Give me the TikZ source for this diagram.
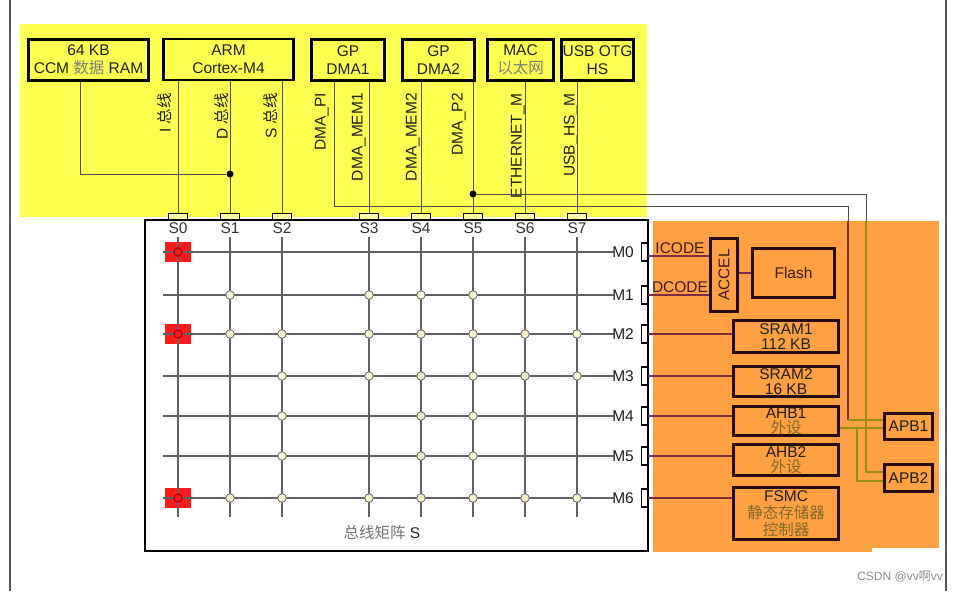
\documentclass[tikz,border=0pt]{standalone}
\usepackage{fontspec}
\setmainfont{Liberation Sans}
\newfontfamily\cjk{Noto Sans CJK SC}
\usetikzlibrary{calc}
\definecolor{yel}{RGB}{255,255,80}
\definecolor{org}{RGB}{255,161,64}
\definecolor{redc}{RGB}{255,25,25}
\definecolor{dotfill}{RGB}{250,246,210}
\definecolor{maroonc}{RGB}{125,45,65}
\definecolor{olivec}{RGB}{150,140,20}
\definecolor{cjkgray}{RGB}{125,125,125}
\definecolor{cjkolive}{RGB}{125,105,40}
\definecolor{codec}{RGB}{60,25,40}
\definecolor{slaveedge}{RGB}{35,10,20}
\begin{document}
\begin{tikzpicture}[x=1pt,y=-1pt,
  base/.style={font=\fontsize{15.5}{18}\selectfont, text=black!88},
  master/.style={base, draw=black, line width=2.6pt, fill=yel, align=center, inner sep=0pt, minimum height=41pt},
  slave/.style={base, font=\fontsize{15.5}{15}\selectfont, draw=slaveedge, line width=2.6pt, fill=org, align=center, inner sep=0pt},
  sport/.style={draw=black, line width=1.6pt, fill=yel!55!white, minimum width=19pt, minimum height=6pt, inner sep=0pt},
  mport/.style={draw=black, line width=1.6pt, fill=white, minimum width=6pt, minimum height=18pt, inner sep=0pt},
  vlab/.style={base, rotate=90, anchor=base east, inner sep=0pt},
  bus/.style={draw=black!70, line width=1pt},
  gridl/.style={draw=black!62, line width=1.3pt},
  xdot/.style={circle, draw=black!60, fill=dotfill, line width=0.8pt, minimum size=8.5pt, inner sep=0pt},
  redsq/.style={fill=redc, minimum width=26pt, minimum height=20pt, inner sep=0pt},
  reddot/.style={circle, draw={rgb,255:red,140;green,0;blue,0}, fill=redc, line width=1pt, minimum size=8pt, inner sep=0pt},
  mline/.style={draw=maroonc, line width=1.2pt},
  apbl/.style={draw=olivec, line width=1.2pt},
  jdot/.style={circle, fill=black, minimum size=7pt, inner sep=0pt},
]
\useasboundingbox (0,0) rectangle (957,591);
\fill[white] (0,0) rectangle (957,591);
\fill[yel] (20,24) rectangle (647,217);
\fill[org] (653,221) rectangle (939,552);
\fill[white] (872,548) rectangle (939,553);
\draw[black!65, line width=2pt] (10,0) -- (10,591);
\draw[black!65, line width=2pt] (946,0) -- (946,591);

% masters
\node[master, minimum width=120.4pt] (ccm) at (88.5,60) {64 KB\\CCM {\color{cjkgray}\cjk 数据} RAM};
\node[master, minimum width=130.4pt] (arm) at (228.5,59.5) {ARM\\Cortex-M4};
\node[master, minimum width=73.4pt] (dma1) at (348,60) {GP\\DMA1};
\node[master, minimum width=72.4pt] (dma2) at (438.5,60) {GP\\DMA2};
\node[master, minimum width=66.4pt] (mac) at (520.5,60) {MAC\\{\color{cjkgray}\cjk 以太网}};
\node[master, minimum width=72.4pt] (usb) at (597.5,60) {USB OTG\\HS};

% bus labels
\node[vlab] (lI) at (170.5,93) {I {\cjk 总线}};
\node[vlab] (lD) at (227.5,93) {D {\cjk 总线}};
\node[vlab] (lS) at (276.5,93) {S {\cjk 总线}};
\node[vlab] (lpi) at (325.5,93) {DMA\_PI};
\node[vlab] (lm1) at (362.5,93) {DMA\_MEM1};
\node[vlab] (lm2) at (416.5,93) {DMA\_MEM2};
\node[vlab] (lp2) at (462.5,93) {DMA\_P2};
\node[vlab] (leth) at (521.5,93) {ETHERNET\_M};
\node[vlab] (lusb) at (574.5,93) {USB\_HS\_M};

% matrix box
\node[draw=black, line width=2.6pt, minimum width=503pt, minimum height=331pt, inner sep=0pt] (mat) at (396.5,385.5) {};
\node[base, text=black!55] (matl) at (382,533) {{\cjk 总线矩阵} \textcolor{black!85}{S}};

% slave ports
\foreach \n/\x in {0/178,1/230,2/282,3/369,4/421,5/473,6/525,7/577} {
  \node[sport] (s\n) at (\x,216.5) {};
  \node[base, text=black!80] (sl\n) at (\x,228.5) {S\n};
}

% red squares
\foreach \y [count=\i] in {252,334,498} { \node[redsq] (rs\i) at (178,\y) {}; }

% grid
\foreach \x in {178,230,282,369,421,473,525,577} \draw[gridl] (\x,237) -- (\x,517);
\foreach \n/\y in {0/252,1/295,2/334,3/376,4/416,5/456,6/498} {
  \node[base, anchor=east, inner sep=0pt] (ml\n) at (634,\y) {M\n};
  \draw[gridl] (163,\y) -- ([xshift=2pt]ml\n.west);
  \node[mport] (m\n) at (644.5,\y) {};
}

% crossing dots
\foreach \x/\y [count=\i] in {230/295,369/295,421/295,473/295,
  230/334,282/334,369/334,421/334,473/334,525/334,577/334,
  282/376,369/376,421/376,473/376,525/376,577/376,
  282/416,421/416,473/416,
  282/456,421/456,473/456,
  230/498,282/498,369/498,421/498,473/498,525/498,577/498}
  { \node[xdot] (d\i) at (\x,\y) {}; }
\foreach \y [count=\i] in {252,334,498} { \node[reddot] (rd\i) at (178,\y) {}; }

% master buses
\draw[bus] (arm.south -| s0) -- (s0.north);
\draw[bus] (arm.south -| s1) -- (s1.north);
\draw[bus] (arm.south -| s2) -- (s2.north);
\node[jdot] (jd) at (230,174) {};
\coordinate (cx) at (80,174);
\draw[bus] (ccm.south -| cx) -- (cx) -- (jd);
\draw[bus] (dma1.south -| s3) -- (s3.north);
\draw[bus] (dma2.south -| s4) -- (s4.north);
\draw[bus] (dma2.south -| s5) -- (s5.north);
\draw[bus] (mac.south -| s6) -- (s6.north);
\draw[bus] (usb.south -| s7) -- (s7.north);
\node[jdot] (jp2) at (473,194) {};

% slaves
\node[slave, minimum width=27pt, minimum height=73pt] (accel) at (724,275) {};
\node[base, rotate=90, text=codec] (accl) at (accel.center) {ACCEL};
\node[slave, minimum width=82pt, minimum height=49pt, text=codec] (flash) at (793.5,273) {Flash};
\node[slave, minimum width=105pt, minimum height=32pt] (sram1) at (786,336.5) {SRAM1\\112 KB};
\node[slave, minimum width=105pt, minimum height=30pt] (sram2) at (786,381.5) {SRAM2\\16 KB};
\node[slave, minimum width=105pt, minimum height=29pt] (ahb1) at (786,421) {AHB1\\{\color{cjkolive}\cjk 外设}};
\node[slave, minimum width=105pt, minimum height=31pt] (ahb2) at (786,460) {AHB2\\{\color{cjkolive}\cjk 外设}};
\node[slave, font=\fontsize{15.5}{17}\selectfont, minimum width=105pt, minimum height=52pt] (fsmc) at (786,513.5) {FSMC\\{\color{cjkolive}\cjk 静态存储器}\\{\color{cjkolive}\cjk 控制器}};
\node[slave, minimum width=48pt, minimum height=26pt] (apb1) at (908.5,426.5) {APB1};
\node[slave, minimum width=48pt, minimum height=27pt] (apb2) at (908.5,478) {APB2};

\node[base, text=codec] (icode) at (680,248) {ICODE};
\node[base, text=codec] (dcode) at (680,287) {DCODE};

% matrix to slaves
\draw[mline] ([yshift=-4pt]m0.east) -- ([yshift=-4pt]m0.east -| accel.west);
\draw[mline] (m1.east) -- (m1.east -| accel.west);
\draw[mline] (flash.west -| accel.east) -- (flash.west);
\draw[mline] (m2.east) -- (m2.east -| sram1.west);
\draw[mline] (m3.east) -- (m3.east -| sram2.west);
\draw[mline] (m4.east) -- (m4.east -| ahb1.west);
\draw[mline] (m5.east) -- (m5.east -| ahb2.west);
\draw[mline] (m6.east) -- (m6.east -| fsmc.west);

% APB links
\coordinate (pi0) at (334,206);
\coordinate (pi1) at (848,206);
\coordinate (pi1b) at (848,221);
\coordinate (pi2) at (848,420);
\draw[bus] (dma1.south -| pi0) -- (pi0) -- (pi1) -- (pi1b);
\draw[mline] (pi1b) -- (pi2);
\draw[apbl] (pi2) -- (apb1.west |- pi2);
\coordinate (p21) at (866,194);
\coordinate (p21b) at (866,221);
\coordinate (p22) at (866,472);
\draw[bus] (jp2) -- (p21) -- (p21b);
\draw[apbl] (p21b) -- (p22) -- (apb2.west |- p22);
\coordinate (a1) at (857,428);
\coordinate (a2) at (857,481);
\draw[apbl] (ahb1.east |- a1) -- (apb1.west |- a1);
\draw[apbl] (a1) -- (a2) -- (apb2.west |- a2);

\node[font=\fontsize{12}{14}\selectfont, text=black!45] (wm) at (900,576) {CSDN @vv{\cjk 啊}vv};
\end{tikzpicture}
\end{document}
